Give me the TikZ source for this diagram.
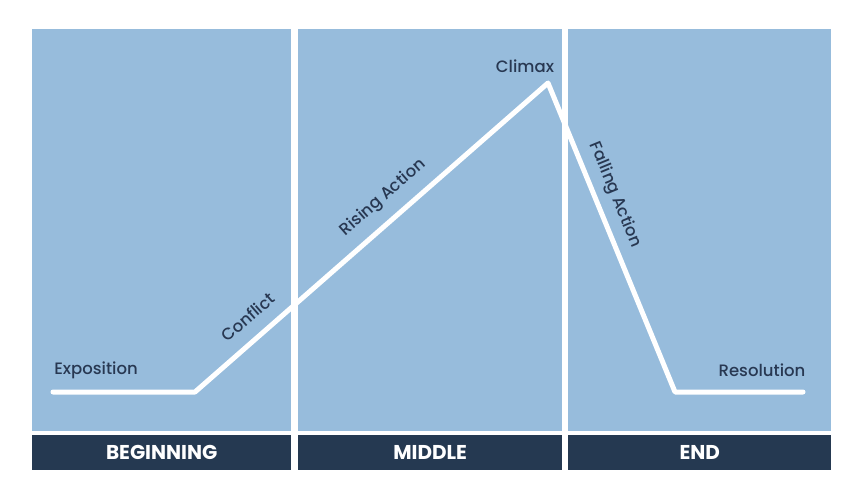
\documentclass[tikz,border=0pt]{standalone}
\usepackage{fontspec}
\setmainfont{Poppins}
\newfontfamily\medio{Poppins Medium}
\usepackage{tikz}
\usetikzlibrary{positioning, calc}
\definecolor{azulclaro}{RGB}{151,188,220}
\definecolor{azuloscuro}{RGB}{37,57,81}
\definecolor{textito}{RGB}{40,56,82}
\tikzset{
  panel/.style={fill=azulclaro, draw=none, inner sep=0pt, anchor=north west},
  barra/.style={fill=azuloscuro, draw=none, inner sep=0pt, anchor=north west},
  barratexto/.style={text=white, font=\fontsize{20}{20}\selectfont\bfseries},
  etiqueta/.style={text=textito, inner sep=0pt, font=\fontsize{16.5}{17}\medio},
  trama/.style={white, line width=5pt, line cap=round, line join=round}
}
\begin{document}
\begin{tikzpicture}[x=1pt, y=-1pt]
	\useasboundingbox (0,0) rectangle (864,500);
	% panels
	\node [panel, minimum width=259pt, minimum height=402pt] (beg) at (32,29) {};
	\node [panel, minimum width=264pt, minimum height=402pt] (mid) at (298,29) {};
	\node [panel, minimum width=263pt, minimum height=402pt] (fin) at (568,29) {};
	% bars
	\node [barra, minimum width=259pt, minimum height=35pt] (begbar) at (32,435) {};
	\node [barra, minimum width=264pt, minimum height=35pt] (midbar) at (298,435) {};
	\node [barra, minimum width=263pt, minimum height=35pt] (finbar) at (568,435) {};
	\node [barratexto] (beglab) at (begbar.center) {BEGINNING};
	\node [barratexto] (midlab) at (midbar.center) {MIDDLE};
	\node [barratexto] (finlab) at (finbar.center) {END};
	% plot line
	\coordinate (start) at (53,392);
	\coordinate (knee) at (195,392);
	\coordinate (climax) at (548,83);
	\coordinate (low) at (675,392);
	\coordinate (stop) at (803,392);
	\draw [trama] (start) -- (knee) -- (climax) -- (low) -- (stop);
	% labels
	\node [etiqueta] (expo) at (96,370) {Exposition};
	\node [etiqueta, rotate=41.2] (conf) at (248,317) {Conflict};
	\node [etiqueta, rotate=41.2] (rise) at (383,198) {Rising Action};
	\node [etiqueta] (clim) at (525,66) {Climax};
	\node [etiqueta, rotate=-67.7] (fall) at (615,195) {Falling Action};
	\node [etiqueta] (reso) at (762,370) {Resolution};
\end{tikzpicture}
\end{document}
